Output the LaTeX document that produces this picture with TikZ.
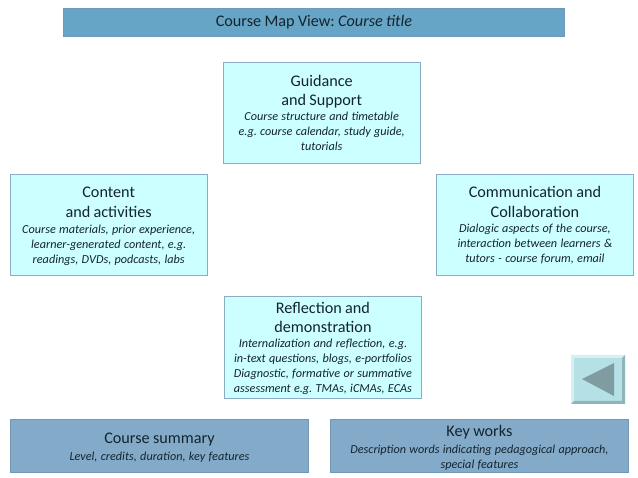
\documentclass[tikz,border=0pt]{standalone}
\usepackage{fontspec}
\setmainfont{Carlito}
\frenchspacing
\definecolor{titleblue}{HTML}{66A5C6}
\definecolor{pale}{HTML}{CCFFFF}
\definecolor{paleedge}{HTML}{8CABC4}
\definecolor{lowblue}{HTML}{83ABC9}
\definecolor{lowedge}{HTML}{7198B8}
\definecolor{ink}{HTML}{14242F}
\definecolor{btn}{HTML}{B4E0E6}
\definecolor{btnlight}{HTML}{D3F0F3}
\definecolor{btndark}{HTML}{8FB5B8}
\definecolor{btnarrow}{HTML}{7F9CA1}
\newcommand{\hd}[1]{{\fontsize{16.2}{19.5}\selectfont #1\par}}
\newcommand{\subt}[1]{{\fontsize{12.2}{15}\selectfont\itshape #1\par}}
\tikzset{
  basebox/.style={draw, line width=0.9pt, text=ink, align=center, inner sep=0pt, anchor=north west},
  palebox/.style={basebox, fill=pale, draw=paleedge, minimum width=197pt, text width=197pt},
  lowbox/.style={basebox, fill=lowblue, draw=lowedge, minimum width=298pt, text width=298pt, minimum height=53pt},
  titlebox/.style={basebox, fill=titleblue, draw=lowedge, minimum width=501pt, text width=501pt, minimum height=28pt},
}
\begin{document}
\begin{tikzpicture}[x=1pt,y=-1pt]
\useasboundingbox (0,0) rectangle (638,478);
\fill[white] (0,0) rectangle (638,478);
\node[titlebox] (title) at (63,8) {\hd{Course Map View: \textit{Course title}}};
\node[palebox, minimum height=101pt] (guid) at (222.7,62) {\hd{Guidance\\and Support}\subt{Course structure and timetable\\e.g. course calendar, study guide,\\tutorials}};
\node[palebox, minimum height=101pt] (cont) at (9.7,174) {\hd{Content\\and activities}\vspace{1pt}\subt{Course materials, prior experience,\\learner-generated content, e.g.\\readings, DVDs, podcasts, labs}\vspace{-3pt}};
\node[palebox, minimum height=101pt] (comm) at (436,174) {\hd{Communication and\\Collaboration}\subt{Dialogic aspects of the course,\\interaction between learners \&\\tutors - course forum, email}};
\node[palebox, minimum height=102pt] (refl) at (224,296) {\hd{Reflection and\\demonstration}\subt{Internalization and reflection, e.g.\\in-text questions, blogs, e-portfolios\\Diagnostic, formative or summative\\assessment e.g. TMAs, iCMAs, ECAs}\vspace{-2pt}};
\node[lowbox] (summ) at (10,419) {\hd{Course summary}\vspace{2pt}\subt{Level, credits, duration, key features}\vspace{-4pt}};
\node[lowbox] (key) at (330,419) {\hd{Key works}\vspace{2pt}\subt{Description words indicating pedagogical approach,\\special features}\vspace{-4pt}};
% back button
\fill[btn] (571,355) rectangle (625,404);
\fill[btnlight] (571,355) -- (625,355) -- (622,358) -- (574,358) -- (574,401) -- (571,404) -- cycle;
\fill[btndark] (625,355) -- (625,404) -- (571,404) -- (574,401) -- (622,401) -- (622,358) -- cycle;
\fill[btnarrow] (582,379) -- (614,363) -- (614,396) -- cycle;
\end{tikzpicture}
\end{document}
